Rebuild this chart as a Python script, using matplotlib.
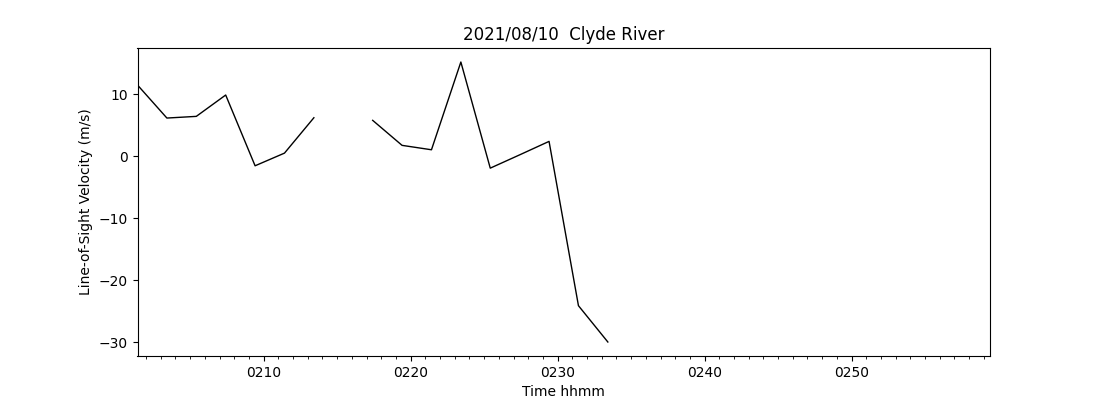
import numpy as np
import pandas as pd
import matplotlib
matplotlib.use("Agg")
import matplotlib.pyplot as plt
import matplotlib.dates as mdates

# Horários das medidas (a cada 2 minutos) e velocidades na linha de visada
inicio = pd.Timestamp("2021-08-10 02:01:25")
tempos = pd.date_range(inicio, periods=17, freq="2min")
velocidades = [11.45, 6.13, 6.4, 9.84, -1.56, 0.48, 6.18, np.nan,
               5.76, 1.73, 1.02, 15.16, -1.94, 0.2, 2.37, -24.1, -29.95]

titulo = "2021/08/10  Clyde River"

fig, ax = plt.subplots(figsize=(11, 4), dpi=100)
ax.plot(tempos, velocidades, color="black", linewidth=1)

ax.set_xlim(inicio, inicio + pd.Timedelta(minutes=58))
ax.xaxis.set_major_locator(mdates.MinuteLocator(byminute=range(0, 60, 10)))
ax.xaxis.set_minor_locator(mdates.MinuteLocator())
ax.xaxis.set_major_formatter(mdates.DateFormatter("%H%M"))

ax.set_xlabel("Time hhmm")
ax.set_ylabel("Line-of-Sight Velocity (m/s)")
ax.set_title(titulo)

fig.savefig("out.png", dpi=100)
